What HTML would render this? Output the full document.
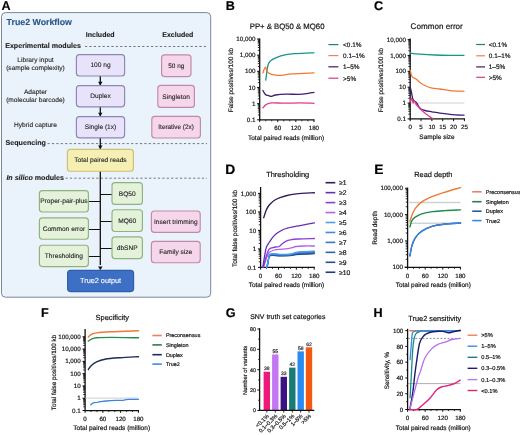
<!DOCTYPE html><html><head><meta charset="utf-8"><style>html,body{margin:0;padding:0;background:#fff;}svg{display:block;will-change:transform;font-family:"Liberation Sans",sans-serif;}text{stroke:currentColor;stroke-width:0.18px;paint-order:stroke;text-rendering:geometricPrecision;}.pa text{stroke-width:0.1px;}</style></head><body>
<svg width="520" height="435" viewBox="0 0 520 435">
<rect width="520" height="435" fill="#fff"/>
<g class="pa">
<text x="1.4" y="9.9" font-size="12.6" text-anchor="start" font-weight="bold" fill="#000" color="#000" >A</text>
<rect x="1.5" y="12.6" width="209.2" height="284.6" rx="4" fill="#eaf2fb" stroke="#7d8899" stroke-width="1"/>
<text x="6.6" y="25.4" font-size="8.8" text-anchor="start" font-weight="bold" fill="#28548a" color="#28548a" >True2 Workflow</text>
<text x="100.2" y="37" font-size="7.0" text-anchor="middle" font-weight="bold" fill="#1a1a1a" color="#1a1a1a" >Included</text>
<text x="177.8" y="37" font-size="7.0" text-anchor="middle" font-weight="bold" fill="#1a1a1a" color="#1a1a1a" >Excluded</text>
<text x="5.2" y="48.2" font-size="7.1" text-anchor="start" font-weight="bold" fill="#1a1a1a" color="#1a1a1a" >Experimental modules</text>
<line x1="85" y1="46.5" x2="207" y2="46.5" stroke="#555" stroke-width="0.8" stroke-dasharray="2.2 2.2"/>
<text x="5.6" y="145.3" font-size="7.1" text-anchor="start" font-weight="bold" fill="#1a1a1a" color="#1a1a1a" >Sequencing</text>
<line x1="47.5" y1="143.6" x2="207" y2="143.6" stroke="#555" stroke-width="0.8" stroke-dasharray="2.2 2.2"/>
<text x="6.4" y="180.4" font-size="7.1" font-weight="bold" fill="#1a1a1a" color="#1a1a1a"><tspan font-style="italic">In silico</tspan> modules</text>
<line x1="65.5" y1="178.2" x2="207" y2="178.2" stroke="#555" stroke-width="0.8" stroke-dasharray="2.2 2.2"/>
<text x="35.5" y="62.4" font-size="6.6" text-anchor="middle" font-weight="normal" fill="#1c1c1c" color="#1c1c1c" >Library input</text>
<text x="35.5" y="70.2" font-size="6.6" text-anchor="middle" font-weight="normal" fill="#1c1c1c" color="#1c1c1c" >(sample complexity)</text>
<text x="35.5" y="94.2" font-size="6.6" text-anchor="middle" font-weight="normal" fill="#1c1c1c" color="#1c1c1c" >Adapter</text>
<text x="35.5" y="101.6" font-size="6.6" text-anchor="middle" font-weight="normal" fill="#1c1c1c" color="#1c1c1c" >(molecular barcode)</text>
<text x="35.5" y="126.6" font-size="6.6" text-anchor="middle" font-weight="normal" fill="#1c1c1c" color="#1c1c1c" >Hybrid capture</text>
<line x1="100.3" y1="76" x2="100.3" y2="265" stroke="#111" stroke-width="1.3" />
<path d="M98.1,81.8 L102.5,81.8 L100.3,85.4 Z" fill="#111"/>
<path d="M98.1,112.7 L102.5,112.7 L100.3,116.3 Z" fill="#111"/>
<path d="M98.1,145.6 L102.5,145.6 L100.3,149.2 Z" fill="#111"/>
<path d="M98.1,266.6 L102.5,266.6 L100.3,270.2 Z" fill="#111"/>
<rect x="76.4" y="54.6" width="48.2" height="21.4" rx="3" fill="#e8e3fa" stroke="#8c86b6" stroke-width="1.15"/>
<text x="100.5" y="67.41" font-size="6.6" text-anchor="middle" font-weight="normal" fill="#1c1c1c" color="#1c1c1c" >100 ng</text>
<rect x="76.4" y="85.6" width="48.2" height="21.2" rx="3" fill="#e8e3fa" stroke="#8c86b6" stroke-width="1.15"/>
<text x="100.5" y="98.31" font-size="6.6" text-anchor="middle" font-weight="normal" fill="#1c1c1c" color="#1c1c1c" >Duplex</text>
<rect x="76.4" y="116.6" width="48.2" height="21.2" rx="3" fill="#e8e3fa" stroke="#8c86b6" stroke-width="1.15"/>
<text x="100.5" y="129.31" font-size="6.6" text-anchor="middle" font-weight="normal" fill="#1c1c1c" color="#1c1c1c" >Single (1x)</text>
<rect x="161.6" y="54.8" width="29.4" height="21.8" rx="3" fill="#f6d6ea" stroke="#bf8aa8" stroke-width="1.15"/>
<text x="176.3" y="67.75" font-size="6.4" text-anchor="middle" font-weight="normal" fill="#1c1c1c" color="#1c1c1c" >50 ng</text>
<rect x="157.8" y="85.4" width="36.6" height="22" rx="3" fill="#f6d6ea" stroke="#bf8aa8" stroke-width="1.15"/>
<text x="176.1" y="98.51" font-size="6.6" text-anchor="middle" font-weight="normal" fill="#1c1c1c" color="#1c1c1c" >Singleton</text>
<rect x="151.8" y="116.4" width="48.6" height="21.6" rx="3" fill="#f6d6ea" stroke="#bf8aa8" stroke-width="1.15"/>
<text x="176.1" y="129.25" font-size="6.4" text-anchor="middle" font-weight="normal" fill="#1c1c1c" color="#1c1c1c" >Iterative (2x)</text>
<rect x="67.4" y="149.4" width="66" height="21.8" rx="3" fill="#f6efb4" stroke="#cdbf73" stroke-width="1.15"/>
<text x="100.4" y="162.41" font-size="6.6" text-anchor="middle" font-weight="normal" fill="#1c1c1c" color="#1c1c1c" >Total paired reads</text>
<line x1="88.6" y1="201.5" x2="100.3" y2="201.5" stroke="#111" stroke-width="1" />
<rect x="39.4" y="190.6" width="49" height="21.4" rx="3" fill="#e3f2d8" stroke="#8fb27e" stroke-width="1.15"/>
<text x="63.9" y="203.41" font-size="6.6" text-anchor="middle" font-weight="normal" fill="#1c1c1c" color="#1c1c1c" >Proper-pair-plus</text>
<line x1="88.6" y1="229.5" x2="100.3" y2="229.5" stroke="#111" stroke-width="1" />
<rect x="39.4" y="217.8" width="49" height="21.4" rx="3" fill="#e3f2d8" stroke="#8fb27e" stroke-width="1.15"/>
<text x="63.9" y="230.61" font-size="6.6" text-anchor="middle" font-weight="normal" fill="#1c1c1c" color="#1c1c1c" >Common error</text>
<line x1="88.6" y1="256.5" x2="100.3" y2="256.5" stroke="#111" stroke-width="1" />
<rect x="39.4" y="245.2" width="49" height="21.4" rx="3" fill="#e3f2d8" stroke="#8fb27e" stroke-width="1.15"/>
<text x="63.9" y="258.01" font-size="6.6" text-anchor="middle" font-weight="normal" fill="#1c1c1c" color="#1c1c1c" >Thresholding</text>
<line x1="100.3" y1="194.5" x2="112" y2="194.5" stroke="#111" stroke-width="1" />
<rect x="112" y="182.6" width="30.4" height="21.8" rx="3" fill="#e3f2d8" stroke="#8fb27e" stroke-width="1.15"/>
<text x="127.2" y="195.61" font-size="6.6" text-anchor="middle" font-weight="normal" fill="#1c1c1c" color="#1c1c1c" >BQ50</text>
<line x1="100.3" y1="221.5" x2="112" y2="221.5" stroke="#111" stroke-width="1" />
<rect x="112" y="209.7" width="30.4" height="21.8" rx="3" fill="#e3f2d8" stroke="#8fb27e" stroke-width="1.15"/>
<text x="127.2" y="222.71" font-size="6.6" text-anchor="middle" font-weight="normal" fill="#1c1c1c" color="#1c1c1c" >MQ60</text>
<line x1="100.3" y1="248.5" x2="112" y2="248.5" stroke="#111" stroke-width="1" />
<rect x="112" y="236.8" width="30.4" height="21.8" rx="3" fill="#e3f2d8" stroke="#8fb27e" stroke-width="1.15"/>
<text x="127.2" y="249.81" font-size="6.6" text-anchor="middle" font-weight="normal" fill="#1c1c1c" color="#1c1c1c" >dbSNP</text>
<rect x="151.4" y="211" width="48.8" height="21.4" rx="3" fill="#f6d6ea" stroke="#bf8aa8" stroke-width="1.15"/>
<text x="175.8" y="223.81" font-size="6.6" text-anchor="middle" font-weight="normal" fill="#1c1c1c" color="#1c1c1c" >Insert trimming</text>
<rect x="151.4" y="241.3" width="48.8" height="21.4" rx="3" fill="#f6d6ea" stroke="#bf8aa8" stroke-width="1.15"/>
<text x="175.8" y="254.11" font-size="6.6" text-anchor="middle" font-weight="normal" fill="#1c1c1c" color="#1c1c1c" >Family size</text>
<rect x="67.6" y="270.4" width="66" height="21.2" rx="3" fill="#3d70c4" stroke="#2f5ea8" stroke-width="1.15"/>
<text x="100.6" y="283.34" font-size="7.3" text-anchor="middle" font-weight="normal" fill="#fff" color="#fff" >True2 output</text>
</g>
<text x="225.8" y="9.9" font-size="12.6" text-anchor="start" font-weight="bold" fill="#000" color="#000" >B</text>
<text x="287.1" y="28.6" font-size="7.75" text-anchor="middle" font-weight="normal" fill="#111" color="#111" >PP+ &amp; BQ50 &amp; MQ60</text>
<line x1="259.1" y1="119.8" x2="314.5" y2="119.8" stroke="#111" stroke-width="1.25" />
<line x1="259.7" y1="119.8" x2="259.7" y2="122.1" stroke="#111" stroke-width="1" />
<line x1="277.77" y1="119.8" x2="277.77" y2="122.1" stroke="#111" stroke-width="1" />
<line x1="295.83" y1="119.8" x2="295.83" y2="122.1" stroke="#111" stroke-width="1" />
<line x1="313.9" y1="119.8" x2="313.9" y2="122.1" stroke="#111" stroke-width="1" />
<line x1="265.72" y1="119.8" x2="265.72" y2="121.4" stroke="#111" stroke-width="0.8" />
<line x1="271.74" y1="119.8" x2="271.74" y2="121.4" stroke="#111" stroke-width="0.8" />
<line x1="283.79" y1="119.8" x2="283.79" y2="121.4" stroke="#111" stroke-width="0.8" />
<line x1="289.81" y1="119.8" x2="289.81" y2="121.4" stroke="#111" stroke-width="0.8" />
<line x1="301.86" y1="119.8" x2="301.86" y2="121.4" stroke="#111" stroke-width="0.8" />
<line x1="307.88" y1="119.8" x2="307.88" y2="121.4" stroke="#111" stroke-width="0.8" />
<text x="259.7" y="130.2" font-size="6.2" text-anchor="middle" font-weight="normal" fill="#111" color="#111" >0</text>
<text x="277.77" y="130.2" font-size="6.2" text-anchor="middle" font-weight="normal" fill="#111" color="#111" >60</text>
<text x="295.83" y="130.2" font-size="6.2" text-anchor="middle" font-weight="normal" fill="#111" color="#111" >120</text>
<text x="313.9" y="130.2" font-size="6.2" text-anchor="middle" font-weight="normal" fill="#111" color="#111" >180</text>
<line x1="259.7" y1="38.4" x2="259.7" y2="120.4" stroke="#111" stroke-width="1.3" />
<line x1="257.1" y1="119.8" x2="259.7" y2="119.8" stroke="#111" stroke-width="1.05" />
<line x1="257.8" y1="114.94" x2="259.7" y2="114.94" stroke="#111" stroke-width="0.85" />
<line x1="257.8" y1="112.09" x2="259.7" y2="112.09" stroke="#111" stroke-width="0.85" />
<line x1="257.8" y1="110.07" x2="259.7" y2="110.07" stroke="#111" stroke-width="0.85" />
<line x1="257.8" y1="108.5" x2="259.7" y2="108.5" stroke="#111" stroke-width="0.85" />
<line x1="257.8" y1="107.23" x2="259.7" y2="107.23" stroke="#111" stroke-width="0.85" />
<line x1="257.8" y1="106.14" x2="259.7" y2="106.14" stroke="#111" stroke-width="0.85" />
<line x1="257.8" y1="105.21" x2="259.7" y2="105.21" stroke="#111" stroke-width="0.85" />
<line x1="257.8" y1="104.38" x2="259.7" y2="104.38" stroke="#111" stroke-width="0.85" />
<line x1="257.1" y1="103.64" x2="259.7" y2="103.64" stroke="#111" stroke-width="1.05" />
<line x1="257.8" y1="98.78" x2="259.7" y2="98.78" stroke="#111" stroke-width="0.85" />
<line x1="257.8" y1="95.93" x2="259.7" y2="95.93" stroke="#111" stroke-width="0.85" />
<line x1="257.8" y1="93.91" x2="259.7" y2="93.91" stroke="#111" stroke-width="0.85" />
<line x1="257.8" y1="92.34" x2="259.7" y2="92.34" stroke="#111" stroke-width="0.85" />
<line x1="257.8" y1="91.07" x2="259.7" y2="91.07" stroke="#111" stroke-width="0.85" />
<line x1="257.8" y1="89.98" x2="259.7" y2="89.98" stroke="#111" stroke-width="0.85" />
<line x1="257.8" y1="89.05" x2="259.7" y2="89.05" stroke="#111" stroke-width="0.85" />
<line x1="257.8" y1="88.22" x2="259.7" y2="88.22" stroke="#111" stroke-width="0.85" />
<line x1="257.1" y1="87.48" x2="259.7" y2="87.48" stroke="#111" stroke-width="1.05" />
<line x1="257.8" y1="82.62" x2="259.7" y2="82.62" stroke="#111" stroke-width="0.85" />
<line x1="257.8" y1="79.77" x2="259.7" y2="79.77" stroke="#111" stroke-width="0.85" />
<line x1="257.8" y1="77.75" x2="259.7" y2="77.75" stroke="#111" stroke-width="0.85" />
<line x1="257.8" y1="76.18" x2="259.7" y2="76.18" stroke="#111" stroke-width="0.85" />
<line x1="257.8" y1="74.91" x2="259.7" y2="74.91" stroke="#111" stroke-width="0.85" />
<line x1="257.8" y1="73.82" x2="259.7" y2="73.82" stroke="#111" stroke-width="0.85" />
<line x1="257.8" y1="72.89" x2="259.7" y2="72.89" stroke="#111" stroke-width="0.85" />
<line x1="257.8" y1="72.06" x2="259.7" y2="72.06" stroke="#111" stroke-width="0.85" />
<line x1="257.1" y1="71.32" x2="259.7" y2="71.32" stroke="#111" stroke-width="1.05" />
<line x1="257.8" y1="66.46" x2="259.7" y2="66.46" stroke="#111" stroke-width="0.85" />
<line x1="257.8" y1="63.61" x2="259.7" y2="63.61" stroke="#111" stroke-width="0.85" />
<line x1="257.8" y1="61.59" x2="259.7" y2="61.59" stroke="#111" stroke-width="0.85" />
<line x1="257.8" y1="60.02" x2="259.7" y2="60.02" stroke="#111" stroke-width="0.85" />
<line x1="257.8" y1="58.75" x2="259.7" y2="58.75" stroke="#111" stroke-width="0.85" />
<line x1="257.8" y1="57.66" x2="259.7" y2="57.66" stroke="#111" stroke-width="0.85" />
<line x1="257.8" y1="56.73" x2="259.7" y2="56.73" stroke="#111" stroke-width="0.85" />
<line x1="257.8" y1="55.9" x2="259.7" y2="55.9" stroke="#111" stroke-width="0.85" />
<line x1="257.1" y1="55.16" x2="259.7" y2="55.16" stroke="#111" stroke-width="1.05" />
<line x1="257.8" y1="50.3" x2="259.7" y2="50.3" stroke="#111" stroke-width="0.85" />
<line x1="257.8" y1="47.45" x2="259.7" y2="47.45" stroke="#111" stroke-width="0.85" />
<line x1="257.8" y1="45.43" x2="259.7" y2="45.43" stroke="#111" stroke-width="0.85" />
<line x1="257.8" y1="43.86" x2="259.7" y2="43.86" stroke="#111" stroke-width="0.85" />
<line x1="257.8" y1="42.59" x2="259.7" y2="42.59" stroke="#111" stroke-width="0.85" />
<line x1="257.8" y1="41.5" x2="259.7" y2="41.5" stroke="#111" stroke-width="0.85" />
<line x1="257.8" y1="40.57" x2="259.7" y2="40.57" stroke="#111" stroke-width="0.85" />
<line x1="257.8" y1="39.74" x2="259.7" y2="39.74" stroke="#111" stroke-width="0.85" />
<line x1="257.1" y1="39" x2="259.7" y2="39" stroke="#111" stroke-width="1.05" />
<text x="255.4" y="41.1" font-size="6.25" text-anchor="end" font-weight="normal" fill="#111" color="#111" >10,000</text>
<text x="255.4" y="57.26" font-size="6.25" text-anchor="end" font-weight="normal" fill="#111" color="#111" >1,000</text>
<text x="255.4" y="73.42" font-size="6.25" text-anchor="end" font-weight="normal" fill="#111" color="#111" >100</text>
<text x="255.4" y="89.58" font-size="6.25" text-anchor="end" font-weight="normal" fill="#111" color="#111" >10</text>
<text x="255.4" y="105.74" font-size="6.25" text-anchor="end" font-weight="normal" fill="#111" color="#111" >1</text>
<text x="255.4" y="121.9" font-size="6.25" text-anchor="end" font-weight="normal" fill="#111" color="#111" >0.1</text>
<text x="286.1" y="140.1" font-size="6.5" text-anchor="middle" font-weight="normal" fill="#111" color="#111" >Total paired reads (million)</text>
<text x="0" y="0" font-size="6.5" text-anchor="middle" fill="#111" color="#111" transform="translate(233.1,80.1) rotate(-90)">False positives/100 kb</text>
<path d="M265.8,80.1 C266.13,77.75 267.02,69.2 267.8,66 C268.58,62.8 269.18,62.27 270.5,60.9 C271.82,59.53 273.12,58.83 275.7,57.8 C278.28,56.77 282.55,55.4 286,54.7 C289.45,54 291.73,53.92 296.4,53.6 C301.07,53.28 311.07,52.93 314,52.8" fill="none" stroke="#15968a" stroke-width="1.3" stroke-linejoin="round" stroke-linecap="round"/>
<path d="M262.9,72.9 C263.32,71.93 264.65,67.27 265.4,67.1 C266.15,66.93 266.37,70.7 267.4,71.9 C268.43,73.1 269.7,73.72 271.6,74.3 C273.5,74.88 275.35,75.47 278.8,75.4 C282.25,75.33 286.43,74.32 292.3,73.9 C298.17,73.48 310.38,73.07 314,72.9" fill="none" stroke="#f07a35" stroke-width="1.3" stroke-linejoin="round" stroke-linecap="round"/>
<path d="M262.9,90.5 C263.32,91.15 264.47,93.55 265.4,94.4 C266.33,95.25 267.47,95.28 268.5,95.6 C269.53,95.92 270.4,96.4 271.6,96.3 C272.8,96.2 273.3,95.35 275.7,95 C278.1,94.65 281.52,94.33 286,94.2 C290.48,94.07 297.93,94.52 302.6,94.2 C307.27,93.88 312.1,92.62 314,92.3" fill="none" stroke="#3f1c78" stroke-width="1.3" stroke-linejoin="round" stroke-linecap="round"/>
<path d="M262.9,107.9 C263.48,107.32 264.95,105.23 266.4,104.4 C267.85,103.57 268.5,103.1 271.6,102.9 C274.7,102.7 280.27,103.2 285,103.2 C289.73,103.2 295.17,102.88 300,102.9 C304.83,102.92 311.67,103.23 314,103.3" fill="none" stroke="#e23a8c" stroke-width="1.3" stroke-linejoin="round" stroke-linecap="round"/>
<line x1="328.4" y1="44.6" x2="338.4" y2="44.6" stroke="#1d7f78" stroke-width="1.2" />
<text x="343.1" y="46.9" font-size="6.4" text-anchor="start" font-weight="normal" fill="#111" color="#111" >&lt;0.1%</text>
<line x1="328.4" y1="55.6" x2="338.4" y2="55.6" stroke="#ee7f5c" stroke-width="1.2" />
<text x="343.1" y="57.9" font-size="6.4" text-anchor="start" font-weight="normal" fill="#111" color="#111" >0.1–1%</text>
<line x1="328.4" y1="66.8" x2="338.4" y2="66.8" stroke="#3d1a5e" stroke-width="1.2" />
<text x="343.1" y="69.1" font-size="6.4" text-anchor="start" font-weight="normal" fill="#111" color="#111" >1–5%</text>
<line x1="328.4" y1="78.2" x2="338.4" y2="78.2" stroke="#d83a82" stroke-width="1.2" />
<text x="343.1" y="80.5" font-size="6.4" text-anchor="start" font-weight="normal" fill="#111" color="#111" >&gt;5%</text>
<text x="374" y="9.8" font-size="12.6" text-anchor="start" font-weight="bold" fill="#000" color="#000" >C</text>
<text x="436.7" y="28.9" font-size="8.1" text-anchor="middle" font-weight="normal" fill="#111" color="#111" >Common error</text>
<line x1="409.6" y1="118.9" x2="465" y2="118.9" stroke="#111" stroke-width="1.25" />
<line x1="410.2" y1="118.9" x2="410.2" y2="121.2" stroke="#111" stroke-width="1" />
<line x1="421.04" y1="118.9" x2="421.04" y2="121.2" stroke="#111" stroke-width="1" />
<line x1="431.88" y1="118.9" x2="431.88" y2="121.2" stroke="#111" stroke-width="1" />
<line x1="442.72" y1="118.9" x2="442.72" y2="121.2" stroke="#111" stroke-width="1" />
<line x1="453.56" y1="118.9" x2="453.56" y2="121.2" stroke="#111" stroke-width="1" />
<line x1="464.4" y1="118.9" x2="464.4" y2="121.2" stroke="#111" stroke-width="1" />
<text x="410.2" y="129.3" font-size="6.2" text-anchor="middle" font-weight="normal" fill="#111" color="#111" >0</text>
<text x="421.04" y="129.3" font-size="6.2" text-anchor="middle" font-weight="normal" fill="#111" color="#111" >5</text>
<text x="431.88" y="129.3" font-size="6.2" text-anchor="middle" font-weight="normal" fill="#111" color="#111" >10</text>
<text x="442.72" y="129.3" font-size="6.2" text-anchor="middle" font-weight="normal" fill="#111" color="#111" >15</text>
<text x="453.56" y="129.3" font-size="6.2" text-anchor="middle" font-weight="normal" fill="#111" color="#111" >20</text>
<text x="464.4" y="129.3" font-size="6.2" text-anchor="middle" font-weight="normal" fill="#111" color="#111" >25</text>
<line x1="410.2" y1="38.6" x2="410.2" y2="119.5" stroke="#111" stroke-width="1.3" />
<line x1="407.6" y1="118.9" x2="410.2" y2="118.9" stroke="#111" stroke-width="1.05" />
<line x1="408.3" y1="114.13" x2="410.2" y2="114.13" stroke="#111" stroke-width="0.85" />
<line x1="408.3" y1="111.33" x2="410.2" y2="111.33" stroke="#111" stroke-width="0.85" />
<line x1="408.3" y1="109.35" x2="410.2" y2="109.35" stroke="#111" stroke-width="0.85" />
<line x1="408.3" y1="107.81" x2="410.2" y2="107.81" stroke="#111" stroke-width="0.85" />
<line x1="408.3" y1="106.56" x2="410.2" y2="106.56" stroke="#111" stroke-width="0.85" />
<line x1="408.3" y1="105.5" x2="410.2" y2="105.5" stroke="#111" stroke-width="0.85" />
<line x1="408.3" y1="104.58" x2="410.2" y2="104.58" stroke="#111" stroke-width="0.85" />
<line x1="408.3" y1="103.77" x2="410.2" y2="103.77" stroke="#111" stroke-width="0.85" />
<line x1="407.6" y1="103.04" x2="410.2" y2="103.04" stroke="#111" stroke-width="1.05" />
<line x1="408.3" y1="98.27" x2="410.2" y2="98.27" stroke="#111" stroke-width="0.85" />
<line x1="408.3" y1="95.47" x2="410.2" y2="95.47" stroke="#111" stroke-width="0.85" />
<line x1="408.3" y1="93.49" x2="410.2" y2="93.49" stroke="#111" stroke-width="0.85" />
<line x1="408.3" y1="91.95" x2="410.2" y2="91.95" stroke="#111" stroke-width="0.85" />
<line x1="408.3" y1="90.7" x2="410.2" y2="90.7" stroke="#111" stroke-width="0.85" />
<line x1="408.3" y1="89.64" x2="410.2" y2="89.64" stroke="#111" stroke-width="0.85" />
<line x1="408.3" y1="88.72" x2="410.2" y2="88.72" stroke="#111" stroke-width="0.85" />
<line x1="408.3" y1="87.91" x2="410.2" y2="87.91" stroke="#111" stroke-width="0.85" />
<line x1="407.6" y1="87.18" x2="410.2" y2="87.18" stroke="#111" stroke-width="1.05" />
<line x1="408.3" y1="82.41" x2="410.2" y2="82.41" stroke="#111" stroke-width="0.85" />
<line x1="408.3" y1="79.61" x2="410.2" y2="79.61" stroke="#111" stroke-width="0.85" />
<line x1="408.3" y1="77.63" x2="410.2" y2="77.63" stroke="#111" stroke-width="0.85" />
<line x1="408.3" y1="76.09" x2="410.2" y2="76.09" stroke="#111" stroke-width="0.85" />
<line x1="408.3" y1="74.84" x2="410.2" y2="74.84" stroke="#111" stroke-width="0.85" />
<line x1="408.3" y1="73.78" x2="410.2" y2="73.78" stroke="#111" stroke-width="0.85" />
<line x1="408.3" y1="72.86" x2="410.2" y2="72.86" stroke="#111" stroke-width="0.85" />
<line x1="408.3" y1="72.05" x2="410.2" y2="72.05" stroke="#111" stroke-width="0.85" />
<line x1="407.6" y1="71.32" x2="410.2" y2="71.32" stroke="#111" stroke-width="1.05" />
<line x1="408.3" y1="66.55" x2="410.2" y2="66.55" stroke="#111" stroke-width="0.85" />
<line x1="408.3" y1="63.75" x2="410.2" y2="63.75" stroke="#111" stroke-width="0.85" />
<line x1="408.3" y1="61.77" x2="410.2" y2="61.77" stroke="#111" stroke-width="0.85" />
<line x1="408.3" y1="60.23" x2="410.2" y2="60.23" stroke="#111" stroke-width="0.85" />
<line x1="408.3" y1="58.98" x2="410.2" y2="58.98" stroke="#111" stroke-width="0.85" />
<line x1="408.3" y1="57.92" x2="410.2" y2="57.92" stroke="#111" stroke-width="0.85" />
<line x1="408.3" y1="57" x2="410.2" y2="57" stroke="#111" stroke-width="0.85" />
<line x1="408.3" y1="56.19" x2="410.2" y2="56.19" stroke="#111" stroke-width="0.85" />
<line x1="407.6" y1="55.46" x2="410.2" y2="55.46" stroke="#111" stroke-width="1.05" />
<line x1="408.3" y1="50.69" x2="410.2" y2="50.69" stroke="#111" stroke-width="0.85" />
<line x1="408.3" y1="47.89" x2="410.2" y2="47.89" stroke="#111" stroke-width="0.85" />
<line x1="408.3" y1="45.91" x2="410.2" y2="45.91" stroke="#111" stroke-width="0.85" />
<line x1="408.3" y1="44.37" x2="410.2" y2="44.37" stroke="#111" stroke-width="0.85" />
<line x1="408.3" y1="43.12" x2="410.2" y2="43.12" stroke="#111" stroke-width="0.85" />
<line x1="408.3" y1="42.06" x2="410.2" y2="42.06" stroke="#111" stroke-width="0.85" />
<line x1="408.3" y1="41.14" x2="410.2" y2="41.14" stroke="#111" stroke-width="0.85" />
<line x1="408.3" y1="40.33" x2="410.2" y2="40.33" stroke="#111" stroke-width="0.85" />
<line x1="407.6" y1="39.6" x2="410.2" y2="39.6" stroke="#111" stroke-width="1.05" />
<text x="405.9" y="41.7" font-size="6.25" text-anchor="end" font-weight="normal" fill="#111" color="#111" >10,000</text>
<text x="405.9" y="57.56" font-size="6.25" text-anchor="end" font-weight="normal" fill="#111" color="#111" >1,000</text>
<text x="405.9" y="73.42" font-size="6.25" text-anchor="end" font-weight="normal" fill="#111" color="#111" >100</text>
<text x="405.9" y="89.28" font-size="6.25" text-anchor="end" font-weight="normal" fill="#111" color="#111" >10</text>
<text x="405.9" y="105.14" font-size="6.25" text-anchor="end" font-weight="normal" fill="#111" color="#111" >1</text>
<text x="405.9" y="121" font-size="6.25" text-anchor="end" font-weight="normal" fill="#111" color="#111" >0.1</text>
<text x="437" y="139.2" font-size="6.5" text-anchor="middle" font-weight="normal" fill="#111" color="#111" >Sample size</text>
<text x="0" y="0" font-size="6.5" text-anchor="middle" fill="#111" color="#111" transform="translate(383.1,80.1) rotate(-90)">False positives/100 kb</text>
<line x1="410.8" y1="103" x2="464.4" y2="103" stroke="#cfcfcf" stroke-width="1.1" />
<path d="M410.5,52.6 C410.75,52.73 410.42,53.13 412,53.4 C413.58,53.67 416.17,53.93 420,54.2 C423.83,54.47 430,54.82 435,55 C440,55.18 445.17,55.25 450,55.3 C454.83,55.35 461.67,55.3 464,55.3" fill="none" stroke="#15968a" stroke-width="1.3" stroke-linejoin="round" stroke-linecap="round"/>
<path d="M410.3,70.3 C410.5,71.17 411.05,74.3 411.5,75.5 C411.95,76.7 412.25,76.92 413,77.5 C413.75,78.08 414.83,78.17 416,79 C417.17,79.83 418.5,81.42 420,82.5 C421.5,83.58 423,84.55 425,85.5 C427,86.45 429.5,87.62 432,88.2 C434.5,88.78 437,88.6 440,89 C443,89.4 446,90.22 450,90.6 C454,90.98 461.67,91.18 464,91.3" fill="none" stroke="#f07a35" stroke-width="1.3" stroke-linejoin="round" stroke-linecap="round"/>
<path d="M410.4,87.6 C410.58,88.42 411.07,90.5 411.5,92.5 C411.93,94.5 412.42,98.12 413,99.6 C413.58,101.08 414.33,100.75 415,101.4 C415.67,102.05 416.33,102.57 417,103.5 C417.67,104.43 418.33,106.08 419,107 C419.67,107.92 420,108.42 421,109 C422,109.58 423.17,110.03 425,110.5 C426.83,110.97 429.5,111.35 432,111.8 C434.5,112.25 436.67,112.73 440,113.2 C443.33,113.67 448,114.27 452,114.6 C456,114.93 462,115.1 464,115.2" fill="none" stroke="#3f1c78" stroke-width="1.3" stroke-linejoin="round" stroke-linecap="round"/>
<path d="M410.5,101.7 L411.2,98.2 L412.2,100.2 L413.2,103 L414.3,100.8 L416,104.3 L420,108.8 L426,114 L432.6,118.6" fill="none" stroke="#e23a8c" stroke-width="1.3" stroke-linejoin="round" stroke-linecap="round"/>
<line x1="476.2" y1="44.5" x2="485" y2="44.5" stroke="#1d7f78" stroke-width="1.2" />
<text x="488.8" y="46.8" font-size="6.4" text-anchor="start" font-weight="normal" fill="#111" color="#111" >&lt;0.1%</text>
<line x1="476.2" y1="55.8" x2="485" y2="55.8" stroke="#ee7f5c" stroke-width="1.2" />
<text x="488.8" y="58.1" font-size="6.4" text-anchor="start" font-weight="normal" fill="#111" color="#111" >0.1–1%</text>
<line x1="476.2" y1="66.9" x2="485" y2="66.9" stroke="#3d1a5e" stroke-width="1.2" />
<text x="488.8" y="69.2" font-size="6.4" text-anchor="start" font-weight="normal" fill="#111" color="#111" >1–5%</text>
<line x1="476.2" y1="77.3" x2="485" y2="77.3" stroke="#d83a82" stroke-width="1.2" />
<text x="488.8" y="79.6" font-size="6.4" text-anchor="start" font-weight="normal" fill="#111" color="#111" >&gt;5%</text>
<text x="225.3" y="173.9" font-size="13.8" text-anchor="start" font-weight="bold" fill="#000" color="#000" >D</text>
<text x="287.7" y="177.1" font-size="7.45" text-anchor="middle" font-weight="normal" fill="#111" color="#111" >Thresholding</text>
<line x1="260" y1="267.4" x2="314.8" y2="267.4" stroke="#111" stroke-width="1.25" />
<line x1="260.6" y1="267.4" x2="260.6" y2="269.7" stroke="#111" stroke-width="1" />
<line x1="278.47" y1="267.4" x2="278.47" y2="269.7" stroke="#111" stroke-width="1" />
<line x1="296.33" y1="267.4" x2="296.33" y2="269.7" stroke="#111" stroke-width="1" />
<line x1="314.2" y1="267.4" x2="314.2" y2="269.7" stroke="#111" stroke-width="1" />
<line x1="266.56" y1="267.4" x2="266.56" y2="269" stroke="#111" stroke-width="0.8" />
<line x1="272.51" y1="267.4" x2="272.51" y2="269" stroke="#111" stroke-width="0.8" />
<line x1="284.42" y1="267.4" x2="284.42" y2="269" stroke="#111" stroke-width="0.8" />
<line x1="290.38" y1="267.4" x2="290.38" y2="269" stroke="#111" stroke-width="0.8" />
<line x1="302.29" y1="267.4" x2="302.29" y2="269" stroke="#111" stroke-width="0.8" />
<line x1="308.24" y1="267.4" x2="308.24" y2="269" stroke="#111" stroke-width="0.8" />
<text x="260.6" y="277.8" font-size="6.2" text-anchor="middle" font-weight="normal" fill="#111" color="#111" >0</text>
<text x="278.47" y="277.8" font-size="6.2" text-anchor="middle" font-weight="normal" fill="#111" color="#111" >60</text>
<text x="296.33" y="277.8" font-size="6.2" text-anchor="middle" font-weight="normal" fill="#111" color="#111" >120</text>
<text x="314.2" y="277.8" font-size="6.2" text-anchor="middle" font-weight="normal" fill="#111" color="#111" >180</text>
<line x1="260.6" y1="187" x2="260.6" y2="268" stroke="#111" stroke-width="1.3" />
<line x1="258" y1="267.4" x2="260.6" y2="267.4" stroke="#111" stroke-width="1.05" />
<line x1="258.7" y1="261.83" x2="260.6" y2="261.83" stroke="#111" stroke-width="0.85" />
<line x1="258.7" y1="258.57" x2="260.6" y2="258.57" stroke="#111" stroke-width="0.85" />
<line x1="258.7" y1="256.26" x2="260.6" y2="256.26" stroke="#111" stroke-width="0.85" />
<line x1="258.7" y1="254.47" x2="260.6" y2="254.47" stroke="#111" stroke-width="0.85" />
<line x1="258.7" y1="253" x2="260.6" y2="253" stroke="#111" stroke-width="0.85" />
<line x1="258.7" y1="251.77" x2="260.6" y2="251.77" stroke="#111" stroke-width="0.85" />
<line x1="258.7" y1="250.69" x2="260.6" y2="250.69" stroke="#111" stroke-width="0.85" />
<line x1="258.7" y1="249.75" x2="260.6" y2="249.75" stroke="#111" stroke-width="0.85" />
<line x1="258" y1="248.9" x2="260.6" y2="248.9" stroke="#111" stroke-width="1.05" />
<line x1="258.7" y1="243.33" x2="260.6" y2="243.33" stroke="#111" stroke-width="0.85" />
<line x1="258.7" y1="240.07" x2="260.6" y2="240.07" stroke="#111" stroke-width="0.85" />
<line x1="258.7" y1="237.76" x2="260.6" y2="237.76" stroke="#111" stroke-width="0.85" />
<line x1="258.7" y1="235.97" x2="260.6" y2="235.97" stroke="#111" stroke-width="0.85" />
<line x1="258.7" y1="234.5" x2="260.6" y2="234.5" stroke="#111" stroke-width="0.85" />
<line x1="258.7" y1="233.27" x2="260.6" y2="233.27" stroke="#111" stroke-width="0.85" />
<line x1="258.7" y1="232.19" x2="260.6" y2="232.19" stroke="#111" stroke-width="0.85" />
<line x1="258.7" y1="231.25" x2="260.6" y2="231.25" stroke="#111" stroke-width="0.85" />
<line x1="258" y1="230.4" x2="260.6" y2="230.4" stroke="#111" stroke-width="1.05" />
<line x1="258.7" y1="224.83" x2="260.6" y2="224.83" stroke="#111" stroke-width="0.85" />
<line x1="258.7" y1="221.57" x2="260.6" y2="221.57" stroke="#111" stroke-width="0.85" />
<line x1="258.7" y1="219.26" x2="260.6" y2="219.26" stroke="#111" stroke-width="0.85" />
<line x1="258.7" y1="217.47" x2="260.6" y2="217.47" stroke="#111" stroke-width="0.85" />
<line x1="258.7" y1="216" x2="260.6" y2="216" stroke="#111" stroke-width="0.85" />
<line x1="258.7" y1="214.77" x2="260.6" y2="214.77" stroke="#111" stroke-width="0.85" />
<line x1="258.7" y1="213.69" x2="260.6" y2="213.69" stroke="#111" stroke-width="0.85" />
<line x1="258.7" y1="212.75" x2="260.6" y2="212.75" stroke="#111" stroke-width="0.85" />
<line x1="258" y1="211.9" x2="260.6" y2="211.9" stroke="#111" stroke-width="1.05" />
<line x1="258.7" y1="206.33" x2="260.6" y2="206.33" stroke="#111" stroke-width="0.85" />
<line x1="258.7" y1="203.07" x2="260.6" y2="203.07" stroke="#111" stroke-width="0.85" />
<line x1="258.7" y1="200.76" x2="260.6" y2="200.76" stroke="#111" stroke-width="0.85" />
<line x1="258.7" y1="198.97" x2="260.6" y2="198.97" stroke="#111" stroke-width="0.85" />
<line x1="258.7" y1="197.5" x2="260.6" y2="197.5" stroke="#111" stroke-width="0.85" />
<line x1="258.7" y1="196.27" x2="260.6" y2="196.27" stroke="#111" stroke-width="0.85" />
<line x1="258.7" y1="195.19" x2="260.6" y2="195.19" stroke="#111" stroke-width="0.85" />
<line x1="258.7" y1="194.25" x2="260.6" y2="194.25" stroke="#111" stroke-width="0.85" />
<line x1="258" y1="193.4" x2="260.6" y2="193.4" stroke="#111" stroke-width="1.05" />
<text x="256.3" y="195.5" font-size="6.25" text-anchor="end" font-weight="normal" fill="#111" color="#111" >1,000</text>
<text x="256.3" y="214" font-size="6.25" text-anchor="end" font-weight="normal" fill="#111" color="#111" >100</text>
<text x="256.3" y="232.5" font-size="6.25" text-anchor="end" font-weight="normal" fill="#111" color="#111" >10</text>
<text x="256.3" y="251" font-size="6.25" text-anchor="end" font-weight="normal" fill="#111" color="#111" >1</text>
<text x="256.3" y="269.5" font-size="6.25" text-anchor="end" font-weight="normal" fill="#111" color="#111" >0.1</text>
<text x="286.5" y="287.3" font-size="6.45" text-anchor="middle" font-weight="normal" fill="#111" color="#111" >Total paired reads (million)</text>
<text x="0" y="0" font-size="6.45" text-anchor="middle" fill="#111" color="#111" transform="translate(236.9,228.5) rotate(-90)">Total false positives/100 kb</text>
<path d="M267.35,267.4 C267.51,266.25 267.83,262.44 268.3,260.5 C268.77,258.56 268.25,256.51 270.2,255.75 C272.15,254.99 276.7,255.97 280,255.95 C283.3,255.92 287.33,255.82 290,255.6 C292.67,255.38 293.67,254.9 296,254.65 C298.33,254.4 300.93,254.25 304,254.1 C307.07,253.95 312.67,253.81 314.4,253.75" fill="none" stroke="#1d3d7a" stroke-width="1.15" stroke-linejoin="round" stroke-linecap="round"/>
<path d="M267.2,267.4 C267.38,266.25 267.8,262.5 268.3,260.5 C268.8,258.5 268.25,256.22 270.2,255.4 C272.15,254.58 276.7,255.62 280,255.6 C283.3,255.58 287.33,255.53 290,255.3 C292.67,255.07 293.67,254.48 296,254.2 C298.33,253.92 300.93,253.77 304,253.6 C307.07,253.43 312.67,253.27 314.4,253.2" fill="none" stroke="#254f95" stroke-width="1.15" stroke-linejoin="round" stroke-linecap="round"/>
<path d="M267.05,267.4 C267.26,266.25 267.78,262.56 268.3,260.5 C268.82,258.44 268.25,255.93 270.2,255.05 C272.15,254.18 276.7,255.26 280,255.25 C283.3,255.24 287.33,255.25 290,255 C292.67,254.75 293.67,254.07 296,253.75 C298.33,253.43 300.93,253.28 304,253.1 C307.07,252.92 312.67,252.72 314.4,252.65" fill="none" stroke="#2d62b0" stroke-width="1.15" stroke-linejoin="round" stroke-linecap="round"/>
<path d="M266.9,267.4 C267.13,266.25 267.75,262.62 268.3,260.5 C268.85,258.38 268.25,255.63 270.2,254.7 C272.15,253.77 276.7,254.9 280,254.9 C283.3,254.9 287.33,254.97 290,254.7 C292.67,254.43 293.67,253.65 296,253.3 C298.33,252.95 300.93,252.8 304,252.6 C307.07,252.4 312.67,252.18 314.4,252.1" fill="none" stroke="#3676c8" stroke-width="1.15" stroke-linejoin="round" stroke-linecap="round"/>
<path d="M266.75,267.4 C267.01,266.25 267.73,262.68 268.3,260.5 C268.88,258.32 268.25,255.34 270.2,254.35 C272.15,253.36 276.7,254.54 280,254.55 C283.3,254.56 287.33,254.68 290,254.4 C292.67,254.12 293.67,253.23 296,252.85 C298.33,252.47 300.93,252.32 304,252.1 C307.07,251.88 312.67,251.64 314.4,251.55" fill="none" stroke="#3f8ade" stroke-width="1.15" stroke-linejoin="round" stroke-linecap="round"/>
<path d="M266.6,267.4 C266.88,266.25 267.7,262.73 268.3,260.5 C268.9,258.27 268.25,255.05 270.2,254 C272.15,252.95 276.7,254.18 280,254.2 C283.3,254.22 287.33,254.4 290,254.1 C292.67,253.8 293.67,252.82 296,252.4 C298.33,251.98 300.93,251.83 304,251.6 C307.07,251.37 312.67,251.1 314.4,251" fill="none" stroke="#4c9ee8" stroke-width="1.15" stroke-linejoin="round" stroke-linecap="round"/>
<path d="M263.6,267.4 C263.87,266.5 264.6,263.82 265.2,262 C265.8,260.18 266.48,258.12 267.2,256.5 C267.92,254.88 268.33,253.38 269.5,252.3 C270.67,251.22 272.65,250.48 274.2,250 C275.75,249.52 276.5,249.63 278.8,249.4 C281.1,249.17 285.7,248.88 288,248.6 C290.3,248.32 291.27,248.05 292.6,247.7 C293.93,247.35 294.07,246.78 296,246.5 C297.93,246.22 301.13,246.08 304.2,246 C307.27,245.92 312.7,246 314.4,246" fill="none" stroke="#b062ec" stroke-width="1.3" stroke-linejoin="round" stroke-linecap="round"/>
<path d="M263.2,267.4 C263.67,265.67 265.03,260 266,257 C266.97,254 267.83,250.95 269,249.4 C270.17,247.85 271.75,248.12 273,247.7 C274.25,247.28 275.45,247.1 276.5,246.9 C277.55,246.7 278.35,247.03 279.3,246.5 C280.25,245.97 281.13,244.57 282.2,243.7 C283.27,242.83 284.35,241.95 285.7,241.3 C287.05,240.65 288.18,240.18 290.3,239.8 C292.42,239.42 294.38,239.22 298.4,239 C302.42,238.78 311.73,238.58 314.4,238.5" fill="none" stroke="#8a3fd8" stroke-width="1.3" stroke-linejoin="round" stroke-linecap="round"/>
<path d="M262.8,267.4 C263.1,265.5 264,259.38 264.6,256 C265.2,252.62 265.58,249.43 266.4,247.1 C267.22,244.77 268.48,243.58 269.5,242 C270.52,240.42 271.47,238.9 272.5,237.6 C273.53,236.3 274.28,235.33 275.7,234.2 C277.12,233.07 279.28,231.75 281,230.8 C282.72,229.85 283.43,229.27 286,228.5 C288.57,227.73 293.23,226.85 296.4,226.2 C299.57,225.55 302,225.15 305,224.6 C308,224.05 312.83,223.18 314.4,222.9" fill="none" stroke="#6230b4" stroke-width="1.3" stroke-linejoin="round" stroke-linecap="round"/>
<path d="M263.7,217.7 C264.15,216.38 265.43,211.97 266.4,209.8 C267.37,207.63 267.95,206.42 269.5,204.7 C271.05,202.98 272.95,200.98 275.7,199.5 C278.45,198.02 282.55,196.73 286,195.8 C289.45,194.87 291.67,194.42 296.4,193.9 C301.13,193.38 311.4,192.9 314.4,192.7" fill="none" stroke="#34195e" stroke-width="1.4" stroke-linejoin="round" stroke-linecap="round"/>
<line x1="325.6" y1="182.7" x2="335.3" y2="182.7" stroke="#34195e" stroke-width="1.6" />
<text x="339" y="185.15" font-size="6.8" text-anchor="start" font-weight="normal" fill="#111" color="#111" >≥1</text>
<line x1="325.6" y1="192.65" x2="335.3" y2="192.65" stroke="#6230b4" stroke-width="1.6" />
<text x="339" y="195.1" font-size="6.8" text-anchor="start" font-weight="normal" fill="#111" color="#111" >≥2</text>
<line x1="325.6" y1="202.6" x2="335.3" y2="202.6" stroke="#8a3fd8" stroke-width="1.6" />
<text x="339" y="205.05" font-size="6.8" text-anchor="start" font-weight="normal" fill="#111" color="#111" >≥3</text>
<line x1="325.6" y1="212.55" x2="335.3" y2="212.55" stroke="#b062ec" stroke-width="1.6" />
<text x="339" y="215" font-size="6.8" text-anchor="start" font-weight="normal" fill="#111" color="#111" >≥4</text>
<line x1="325.6" y1="222.5" x2="335.3" y2="222.5" stroke="#4c9ee8" stroke-width="1.6" />
<text x="339" y="224.95" font-size="6.8" text-anchor="start" font-weight="normal" fill="#111" color="#111" >≥5</text>
<line x1="325.6" y1="232.45" x2="335.3" y2="232.45" stroke="#3f8ade" stroke-width="1.6" />
<text x="339" y="234.9" font-size="6.8" text-anchor="start" font-weight="normal" fill="#111" color="#111" >≥6</text>
<line x1="325.6" y1="242.4" x2="335.3" y2="242.4" stroke="#3676c8" stroke-width="1.6" />
<text x="339" y="244.85" font-size="6.8" text-anchor="start" font-weight="normal" fill="#111" color="#111" >≥7</text>
<line x1="325.6" y1="252.35" x2="335.3" y2="252.35" stroke="#2d62b0" stroke-width="1.6" />
<text x="339" y="254.8" font-size="6.8" text-anchor="start" font-weight="normal" fill="#111" color="#111" >≥8</text>
<line x1="325.6" y1="262.3" x2="335.3" y2="262.3" stroke="#254f95" stroke-width="1.6" />
<text x="339" y="264.75" font-size="6.8" text-anchor="start" font-weight="normal" fill="#111" color="#111" >≥9</text>
<line x1="325.6" y1="272.25" x2="335.3" y2="272.25" stroke="#1d3d7a" stroke-width="1.6" />
<text x="339" y="274.7" font-size="6.8" text-anchor="start" font-weight="normal" fill="#111" color="#111" >≥10</text>
<text x="374.3" y="173.8" font-size="13.8" text-anchor="start" font-weight="bold" fill="#000" color="#000" >E</text>
<text x="433.35" y="176.9" font-size="7.4" text-anchor="middle" font-weight="normal" fill="#111" color="#111" >Read depth</text>
<line x1="404.6" y1="267.3" x2="461" y2="267.3" stroke="#111" stroke-width="1.25" />
<line x1="407.6" y1="267.3" x2="407.6" y2="269.6" stroke="#111" stroke-width="1" />
<line x1="425.2" y1="267.3" x2="425.2" y2="269.6" stroke="#111" stroke-width="1" />
<line x1="442.8" y1="267.3" x2="442.8" y2="269.6" stroke="#111" stroke-width="1" />
<line x1="460.4" y1="267.3" x2="460.4" y2="269.6" stroke="#111" stroke-width="1" />
<line x1="413.47" y1="267.3" x2="413.47" y2="268.9" stroke="#111" stroke-width="0.8" />
<line x1="419.33" y1="267.3" x2="419.33" y2="268.9" stroke="#111" stroke-width="0.8" />
<line x1="431.07" y1="267.3" x2="431.07" y2="268.9" stroke="#111" stroke-width="0.8" />
<line x1="436.93" y1="267.3" x2="436.93" y2="268.9" stroke="#111" stroke-width="0.8" />
<line x1="448.67" y1="267.3" x2="448.67" y2="268.9" stroke="#111" stroke-width="0.8" />
<line x1="454.53" y1="267.3" x2="454.53" y2="268.9" stroke="#111" stroke-width="0.8" />
<text x="407.6" y="277.7" font-size="6.2" text-anchor="middle" font-weight="normal" fill="#111" color="#111" >0</text>
<text x="425.2" y="277.7" font-size="6.2" text-anchor="middle" font-weight="normal" fill="#111" color="#111" >60</text>
<text x="442.8" y="277.7" font-size="6.2" text-anchor="middle" font-weight="normal" fill="#111" color="#111" >120</text>
<text x="460.4" y="277.7" font-size="6.2" text-anchor="middle" font-weight="normal" fill="#111" color="#111" >180</text>
<line x1="407.6" y1="187.6" x2="407.6" y2="267.9" stroke="#111" stroke-width="1.3" />
<line x1="405" y1="267.3" x2="407.6" y2="267.3" stroke="#111" stroke-width="1.05" />
<line x1="405.7" y1="259.37" x2="407.6" y2="259.37" stroke="#111" stroke-width="0.85" />
<line x1="405.7" y1="254.74" x2="407.6" y2="254.74" stroke="#111" stroke-width="0.85" />
<line x1="405.7" y1="251.45" x2="407.6" y2="251.45" stroke="#111" stroke-width="0.85" />
<line x1="405.7" y1="248.89" x2="407.6" y2="248.89" stroke="#111" stroke-width="0.85" />
<line x1="405.7" y1="246.81" x2="407.6" y2="246.81" stroke="#111" stroke-width="0.85" />
<line x1="405.7" y1="245.05" x2="407.6" y2="245.05" stroke="#111" stroke-width="0.85" />
<line x1="405.7" y1="243.52" x2="407.6" y2="243.52" stroke="#111" stroke-width="0.85" />
<line x1="405.7" y1="242.17" x2="407.6" y2="242.17" stroke="#111" stroke-width="0.85" />
<line x1="405" y1="240.97" x2="407.6" y2="240.97" stroke="#111" stroke-width="1.05" />
<line x1="405.7" y1="233.04" x2="407.6" y2="233.04" stroke="#111" stroke-width="0.85" />
<line x1="405.7" y1="228.4" x2="407.6" y2="228.4" stroke="#111" stroke-width="0.85" />
<line x1="405.7" y1="225.11" x2="407.6" y2="225.11" stroke="#111" stroke-width="0.85" />
<line x1="405.7" y1="222.56" x2="407.6" y2="222.56" stroke="#111" stroke-width="0.85" />
<line x1="405.7" y1="220.48" x2="407.6" y2="220.48" stroke="#111" stroke-width="0.85" />
<line x1="405.7" y1="218.71" x2="407.6" y2="218.71" stroke="#111" stroke-width="0.85" />
<line x1="405.7" y1="217.19" x2="407.6" y2="217.19" stroke="#111" stroke-width="0.85" />
<line x1="405.7" y1="215.84" x2="407.6" y2="215.84" stroke="#111" stroke-width="0.85" />
<line x1="405" y1="214.63" x2="407.6" y2="214.63" stroke="#111" stroke-width="1.05" />
<line x1="405.7" y1="206.71" x2="407.6" y2="206.71" stroke="#111" stroke-width="0.85" />
<line x1="405.7" y1="202.07" x2="407.6" y2="202.07" stroke="#111" stroke-width="0.85" />
<line x1="405.7" y1="198.78" x2="407.6" y2="198.78" stroke="#111" stroke-width="0.85" />
<line x1="405.7" y1="196.23" x2="407.6" y2="196.23" stroke="#111" stroke-width="0.85" />
<line x1="405.7" y1="194.14" x2="407.6" y2="194.14" stroke="#111" stroke-width="0.85" />
<line x1="405.7" y1="192.38" x2="407.6" y2="192.38" stroke="#111" stroke-width="0.85" />
<line x1="405.7" y1="190.85" x2="407.6" y2="190.85" stroke="#111" stroke-width="0.85" />
<line x1="405.7" y1="189.5" x2="407.6" y2="189.5" stroke="#111" stroke-width="0.85" />
<line x1="405" y1="188.3" x2="407.6" y2="188.3" stroke="#111" stroke-width="1.05" />
<text x="403" y="190.4" font-size="6.25" text-anchor="end" font-weight="normal" fill="#111" color="#111" >100,000</text>
<text x="403" y="216.73" font-size="6.25" text-anchor="end" font-weight="normal" fill="#111" color="#111" >10,000</text>
<text x="403" y="243.07" font-size="6.25" text-anchor="end" font-weight="normal" fill="#111" color="#111" >1,000</text>
<text x="403" y="269.4" font-size="6.25" text-anchor="end" font-weight="normal" fill="#111" color="#111" >100</text>
<text x="433.3" y="287.1" font-size="6.4" text-anchor="middle" font-weight="normal" fill="#111" color="#111" >Total paired reads (million)</text>
<text x="0" y="0" font-size="6.5" text-anchor="middle" fill="#111" color="#111" transform="translate(376.5,227.9) rotate(-90)">Read depth</text>
<line x1="408.4" y1="202.5" x2="460.6" y2="202.5" stroke="#cfd2d4" stroke-width="1.4" />
<line x1="408.4" y1="223.2" x2="460.6" y2="223.2" stroke="#cfd2d4" stroke-width="1.4" />
<path d="M409.9,221.4 C410.25,220.32 411.1,217.08 412,214.9 C412.9,212.72 413.67,210.48 415.3,208.3 C416.93,206.12 418.9,203.78 421.8,201.8 C424.7,199.82 429.07,197.93 432.7,196.4 C436.33,194.87 438.95,194.07 443.6,192.6 C448.25,191.13 457.77,188.43 460.6,187.6" fill="none" stroke="#f07a35" stroke-width="1.4" stroke-linejoin="round" stroke-linecap="round"/>
<path d="M409.9,226.9 C410.25,225.8 411.1,221.93 412,220.3 C412.9,218.67 413.67,218.18 415.3,217.1 C416.93,216.02 418.9,214.72 421.8,213.8 C424.7,212.88 428.83,212.13 432.7,211.6 C436.57,211.07 440.35,210.88 445,210.6 C449.65,210.32 458,210.02 460.6,209.9" fill="none" stroke="#1d8a4c" stroke-width="1.4" stroke-linejoin="round" stroke-linecap="round"/>
<path d="M409.9,255.9 C410.25,254.15 411.1,248.42 412,245.4 C412.9,242.38 413.67,240.17 415.3,237.8 C416.93,235.43 418.9,233.13 421.8,231.2 C424.7,229.27 429.07,227.35 432.7,226.2 C436.33,225.05 438.95,224.83 443.6,224.3 C448.25,223.77 457.77,223.22 460.6,223" fill="none" stroke="#1b3f8c" stroke-width="1.4" stroke-linejoin="round" stroke-linecap="round"/>
<path d="M409.9,255.9 C410.25,254.15 411.1,248.42 412,245.4 C412.9,242.38 413.67,240.17 415.3,237.8 C416.93,235.43 418.9,233.13 421.8,231.2 C424.7,229.27 429.07,227.35 432.7,226.2 C436.33,225.05 438.95,224.83 443.6,224.3 C448.25,223.77 457.77,223.22 460.6,223" fill="none" stroke="#3a86e2" stroke-width="1.3" stroke-linejoin="round" stroke-linecap="round"/>
<line x1="472.2" y1="191.8" x2="481.6" y2="191.8" stroke="#e9805f" stroke-width="1.6" />
<text x="485.8" y="193.78" font-size="5.5" text-anchor="start" font-weight="normal" fill="#111" color="#111" >Preconsensus</text>
<line x1="472.2" y1="201.7" x2="481.6" y2="201.7" stroke="#2a7d4e" stroke-width="1.6" />
<text x="485.8" y="203.68" font-size="5.5" text-anchor="start" font-weight="normal" fill="#111" color="#111" >Singleton</text>
<line x1="472.2" y1="211.2" x2="481.6" y2="211.2" stroke="#2a5a9a" stroke-width="1.6" />
<text x="485.8" y="213.18" font-size="5.5" text-anchor="start" font-weight="normal" fill="#111" color="#111" >Duplex</text>
<line x1="472.2" y1="220.6" x2="481.6" y2="220.6" stroke="#3a8ae0" stroke-width="1.6" />
<text x="485.8" y="222.58" font-size="5.5" text-anchor="start" font-weight="normal" fill="#111" color="#111" >True2</text>
<text x="41" y="317.2" font-size="12.6" text-anchor="start" font-weight="bold" fill="#000" color="#000" >F</text>
<text x="112.35" y="320.1" font-size="7.45" text-anchor="middle" font-weight="normal" fill="#111" color="#111" >Specificity</text>
<line x1="84.5" y1="410.5" x2="139" y2="410.5" stroke="#111" stroke-width="1.25" />
<line x1="85.1" y1="410.5" x2="85.1" y2="412.8" stroke="#111" stroke-width="1" />
<line x1="102.87" y1="410.5" x2="102.87" y2="412.8" stroke="#111" stroke-width="1" />
<line x1="120.63" y1="410.5" x2="120.63" y2="412.8" stroke="#111" stroke-width="1" />
<line x1="138.4" y1="410.5" x2="138.4" y2="412.8" stroke="#111" stroke-width="1" />
<line x1="91.02" y1="410.5" x2="91.02" y2="412.1" stroke="#111" stroke-width="0.8" />
<line x1="96.94" y1="410.5" x2="96.94" y2="412.1" stroke="#111" stroke-width="0.8" />
<line x1="108.79" y1="410.5" x2="108.79" y2="412.1" stroke="#111" stroke-width="0.8" />
<line x1="114.71" y1="410.5" x2="114.71" y2="412.1" stroke="#111" stroke-width="0.8" />
<line x1="126.56" y1="410.5" x2="126.56" y2="412.1" stroke="#111" stroke-width="0.8" />
<line x1="132.48" y1="410.5" x2="132.48" y2="412.1" stroke="#111" stroke-width="0.8" />
<text x="85.1" y="421" font-size="6.2" text-anchor="middle" font-weight="normal" fill="#111" color="#111" >0</text>
<text x="102.87" y="421" font-size="6.2" text-anchor="middle" font-weight="normal" fill="#111" color="#111" >60</text>
<text x="120.63" y="421" font-size="6.2" text-anchor="middle" font-weight="normal" fill="#111" color="#111" >120</text>
<text x="138.4" y="421" font-size="6.2" text-anchor="middle" font-weight="normal" fill="#111" color="#111" >180</text>
<line x1="85.1" y1="329" x2="85.1" y2="411.1" stroke="#111" stroke-width="1.3" />
<line x1="82.5" y1="410.5" x2="85.1" y2="410.5" stroke="#111" stroke-width="1.05" />
<line x1="83.2" y1="406.8" x2="85.1" y2="406.8" stroke="#111" stroke-width="0.85" />
<line x1="83.2" y1="404.64" x2="85.1" y2="404.64" stroke="#111" stroke-width="0.85" />
<line x1="83.2" y1="403.1" x2="85.1" y2="403.1" stroke="#111" stroke-width="0.85" />
<line x1="83.2" y1="401.91" x2="85.1" y2="401.91" stroke="#111" stroke-width="0.85" />
<line x1="83.2" y1="400.94" x2="85.1" y2="400.94" stroke="#111" stroke-width="0.85" />
<line x1="83.2" y1="400.12" x2="85.1" y2="400.12" stroke="#111" stroke-width="0.85" />
<line x1="83.2" y1="399.41" x2="85.1" y2="399.41" stroke="#111" stroke-width="0.85" />
<line x1="83.2" y1="398.78" x2="85.1" y2="398.78" stroke="#111" stroke-width="0.85" />
<line x1="82.5" y1="398.22" x2="85.1" y2="398.22" stroke="#111" stroke-width="1.05" />
<line x1="83.2" y1="394.52" x2="85.1" y2="394.52" stroke="#111" stroke-width="0.85" />
<line x1="83.2" y1="392.36" x2="85.1" y2="392.36" stroke="#111" stroke-width="0.85" />
<line x1="83.2" y1="390.82" x2="85.1" y2="390.82" stroke="#111" stroke-width="0.85" />
<line x1="83.2" y1="389.63" x2="85.1" y2="389.63" stroke="#111" stroke-width="0.85" />
<line x1="83.2" y1="388.66" x2="85.1" y2="388.66" stroke="#111" stroke-width="0.85" />
<line x1="83.2" y1="387.84" x2="85.1" y2="387.84" stroke="#111" stroke-width="0.85" />
<line x1="83.2" y1="387.12" x2="85.1" y2="387.12" stroke="#111" stroke-width="0.85" />
<line x1="83.2" y1="386.5" x2="85.1" y2="386.5" stroke="#111" stroke-width="0.85" />
<line x1="82.5" y1="385.93" x2="85.1" y2="385.93" stroke="#111" stroke-width="1.05" />
<line x1="83.2" y1="382.24" x2="85.1" y2="382.24" stroke="#111" stroke-width="0.85" />
<line x1="83.2" y1="380.07" x2="85.1" y2="380.07" stroke="#111" stroke-width="0.85" />
<line x1="83.2" y1="378.54" x2="85.1" y2="378.54" stroke="#111" stroke-width="0.85" />
<line x1="83.2" y1="377.35" x2="85.1" y2="377.35" stroke="#111" stroke-width="0.85" />
<line x1="83.2" y1="376.38" x2="85.1" y2="376.38" stroke="#111" stroke-width="0.85" />
<line x1="83.2" y1="375.55" x2="85.1" y2="375.55" stroke="#111" stroke-width="0.85" />
<line x1="83.2" y1="374.84" x2="85.1" y2="374.84" stroke="#111" stroke-width="0.85" />
<line x1="83.2" y1="374.21" x2="85.1" y2="374.21" stroke="#111" stroke-width="0.85" />
<line x1="82.5" y1="373.65" x2="85.1" y2="373.65" stroke="#111" stroke-width="1.05" />
<line x1="83.2" y1="369.95" x2="85.1" y2="369.95" stroke="#111" stroke-width="0.85" />
<line x1="83.2" y1="367.79" x2="85.1" y2="367.79" stroke="#111" stroke-width="0.85" />
<line x1="83.2" y1="366.25" x2="85.1" y2="366.25" stroke="#111" stroke-width="0.85" />
<line x1="83.2" y1="365.06" x2="85.1" y2="365.06" stroke="#111" stroke-width="0.85" />
<line x1="83.2" y1="364.09" x2="85.1" y2="364.09" stroke="#111" stroke-width="0.85" />
<line x1="83.2" y1="363.27" x2="85.1" y2="363.27" stroke="#111" stroke-width="0.85" />
<line x1="83.2" y1="362.56" x2="85.1" y2="362.56" stroke="#111" stroke-width="0.85" />
<line x1="83.2" y1="361.93" x2="85.1" y2="361.93" stroke="#111" stroke-width="0.85" />
<line x1="82.5" y1="361.37" x2="85.1" y2="361.37" stroke="#111" stroke-width="1.05" />
<line x1="83.2" y1="357.67" x2="85.1" y2="357.67" stroke="#111" stroke-width="0.85" />
<line x1="83.2" y1="355.51" x2="85.1" y2="355.51" stroke="#111" stroke-width="0.85" />
<line x1="83.2" y1="353.97" x2="85.1" y2="353.97" stroke="#111" stroke-width="0.85" />
<line x1="83.2" y1="352.78" x2="85.1" y2="352.78" stroke="#111" stroke-width="0.85" />
<line x1="83.2" y1="351.81" x2="85.1" y2="351.81" stroke="#111" stroke-width="0.85" />
<line x1="83.2" y1="350.99" x2="85.1" y2="350.99" stroke="#111" stroke-width="0.85" />
<line x1="83.2" y1="350.27" x2="85.1" y2="350.27" stroke="#111" stroke-width="0.85" />
<line x1="83.2" y1="349.65" x2="85.1" y2="349.65" stroke="#111" stroke-width="0.85" />
<line x1="82.5" y1="349.08" x2="85.1" y2="349.08" stroke="#111" stroke-width="1.05" />
<line x1="83.2" y1="345.39" x2="85.1" y2="345.39" stroke="#111" stroke-width="0.85" />
<line x1="83.2" y1="343.22" x2="85.1" y2="343.22" stroke="#111" stroke-width="0.85" />
<line x1="83.2" y1="341.69" x2="85.1" y2="341.69" stroke="#111" stroke-width="0.85" />
<line x1="83.2" y1="340.5" x2="85.1" y2="340.5" stroke="#111" stroke-width="0.85" />
<line x1="83.2" y1="339.53" x2="85.1" y2="339.53" stroke="#111" stroke-width="0.85" />
<line x1="83.2" y1="338.7" x2="85.1" y2="338.7" stroke="#111" stroke-width="0.85" />
<line x1="83.2" y1="337.99" x2="85.1" y2="337.99" stroke="#111" stroke-width="0.85" />
<line x1="83.2" y1="337.36" x2="85.1" y2="337.36" stroke="#111" stroke-width="0.85" />
<line x1="82.5" y1="336.8" x2="85.1" y2="336.8" stroke="#111" stroke-width="1.05" />
<text x="80.8" y="338.9" font-size="6.25" text-anchor="end" font-weight="normal" fill="#111" color="#111" >100,000</text>
<text x="80.8" y="351.18" font-size="6.25" text-anchor="end" font-weight="normal" fill="#111" color="#111" >10,000</text>
<text x="80.8" y="363.47" font-size="6.25" text-anchor="end" font-weight="normal" fill="#111" color="#111" >1,000</text>
<text x="80.8" y="375.75" font-size="6.25" text-anchor="end" font-weight="normal" fill="#111" color="#111" >100</text>
<text x="80.8" y="388.03" font-size="6.25" text-anchor="end" font-weight="normal" fill="#111" color="#111" >10</text>
<text x="80.8" y="400.32" font-size="6.25" text-anchor="end" font-weight="normal" fill="#111" color="#111" >1</text>
<text x="80.8" y="412.6" font-size="6.25" text-anchor="end" font-weight="normal" fill="#111" color="#111" >0.1</text>
<text x="111.7" y="430.3" font-size="6.55" text-anchor="middle" font-weight="normal" fill="#111" color="#111" >Total paired reads (million)</text>
<text x="0" y="0" font-size="6.3" text-anchor="middle" fill="#111" color="#111" transform="translate(55.5,372.5) rotate(-90)">Total false positives/100 kb</text>
<line x1="85.2" y1="398.1" x2="138.5" y2="398.1" stroke="#c8c8c8" stroke-width="0.9" />
<path d="M88.3,337 C88.82,336.55 90.02,334.98 91.4,334.3 C92.78,333.62 93.33,333.32 96.6,332.9 C99.87,332.48 104.02,332.15 111,331.8 C117.98,331.45 133.92,330.97 138.5,330.8" fill="none" stroke="#f07a35" stroke-width="1.4" stroke-linejoin="round" stroke-linecap="round"/>
<path d="M88.3,341.1 C88.82,340.77 90.02,339.65 91.4,339.1 C92.78,338.55 93.33,338.08 96.6,337.8 C99.87,337.52 104.02,337.4 111,337.4 C117.98,337.4 133.92,337.73 138.5,337.8" fill="none" stroke="#2a8a4e" stroke-width="1.4" stroke-linejoin="round" stroke-linecap="round"/>
<path d="M88.3,369.5 C88.82,368.82 90.02,366.67 91.4,365.4 C92.78,364.13 94.33,362.93 96.6,361.9 C98.87,360.87 101.1,359.9 105,359.2 C108.9,358.5 114.42,358.12 120,357.7 C125.58,357.28 135.42,356.87 138.5,356.7" fill="none" stroke="#1c2a5c" stroke-width="1.4" stroke-linejoin="round" stroke-linecap="round"/>
<path d="M90.8,404.7 L92.5,403.2 L94.5,402.6 L97,402.4 L100.7,401.6 L106,401 L111,400.6 L116,400.4 L123,400.3 L126,399.7 L129,399.4 L138.5,399.3" fill="none" stroke="#3a86e2" stroke-width="1.3" stroke-linejoin="round" stroke-linecap="round"/>
<line x1="152.4" y1="335.5" x2="161.8" y2="335.5" stroke="#e9805f" stroke-width="1.6" />
<text x="165.9" y="337.46" font-size="5.45" text-anchor="start" font-weight="normal" fill="#111" color="#111" >Preconsensus</text>
<line x1="152.4" y1="344.9" x2="161.8" y2="344.9" stroke="#2a7d4e" stroke-width="1.6" />
<text x="165.9" y="346.86" font-size="5.45" text-anchor="start" font-weight="normal" fill="#111" color="#111" >Singleton</text>
<line x1="152.4" y1="354.7" x2="161.8" y2="354.7" stroke="#1c2a5c" stroke-width="1.6" />
<text x="165.9" y="356.66" font-size="5.45" text-anchor="start" font-weight="normal" fill="#111" color="#111" >Duplex</text>
<line x1="152.4" y1="364.1" x2="161.8" y2="364.1" stroke="#3a8ae0" stroke-width="1.6" />
<text x="165.9" y="366.06" font-size="5.45" text-anchor="start" font-weight="normal" fill="#111" color="#111" >True2</text>
<text x="225.8" y="316.8" font-size="12.6" text-anchor="start" font-weight="bold" fill="#000" color="#000" >G</text>
<text x="287.8" y="319.4" font-size="6.94" text-anchor="middle" font-weight="normal" fill="#111" color="#111" >SNV truth set categories</text>
<line x1="259.6" y1="328.2" x2="259.6" y2="411" stroke="#111" stroke-width="1.3" />
<line x1="257.3" y1="410.4" x2="259.6" y2="410.4" stroke="#111" stroke-width="1" />
<line x1="257.3" y1="390.05" x2="259.6" y2="390.05" stroke="#111" stroke-width="1" />
<line x1="257.3" y1="369.7" x2="259.6" y2="369.7" stroke="#111" stroke-width="1" />
<line x1="257.3" y1="349.35" x2="259.6" y2="349.35" stroke="#111" stroke-width="1" />
<line x1="257.3" y1="329" x2="259.6" y2="329" stroke="#111" stroke-width="1" />
<line x1="258.1" y1="400.22" x2="259.6" y2="400.22" stroke="#111" stroke-width="0.8" />
<line x1="258.1" y1="379.88" x2="259.6" y2="379.88" stroke="#111" stroke-width="0.8" />
<line x1="258.1" y1="359.52" x2="259.6" y2="359.52" stroke="#111" stroke-width="0.8" />
<line x1="258.1" y1="339.18" x2="259.6" y2="339.18" stroke="#111" stroke-width="0.8" />
<text x="256" y="412.25" font-size="5.3" text-anchor="end" font-weight="normal" fill="#111" color="#111" >0</text>
<text x="256" y="391.9" font-size="5.3" text-anchor="end" font-weight="normal" fill="#111" color="#111" >20</text>
<text x="256" y="371.56" font-size="5.3" text-anchor="end" font-weight="normal" fill="#111" color="#111" >40</text>
<text x="256" y="351.21" font-size="5.3" text-anchor="end" font-weight="normal" fill="#111" color="#111" >60</text>
<text x="256" y="330.86" font-size="5.3" text-anchor="end" font-weight="normal" fill="#111" color="#111" >80</text>
<text x="0" y="0" font-size="5.84" text-anchor="middle" fill="#111" color="#111" transform="translate(246.8,370.4) rotate(-90)">Number of variants</text>
<rect x="263.6" y="371.74" width="6.4" height="38.66" fill="#ef177b"/>
<text x="266.8" y="370.04" font-size="5.0" text-anchor="middle" font-weight="normal" fill="#222" color="#222" >38</text>
<rect x="272.1" y="354.44" width="6.4" height="55.96" fill="#c477f2"/>
<text x="275.3" y="352.74" font-size="5.0" text-anchor="middle" font-weight="normal" fill="#222" color="#222" >55</text>
<rect x="280.6" y="376.82" width="6.4" height="33.58" fill="#3b1382"/>
<text x="283.8" y="375.12" font-size="5.0" text-anchor="middle" font-weight="normal" fill="#222" color="#222" >33</text>
<rect x="289.1" y="367.66" width="6.4" height="42.74" fill="#1a7b72"/>
<text x="292.3" y="365.96" font-size="5.0" text-anchor="middle" font-weight="normal" fill="#222" color="#222" >42</text>
<rect x="297.5" y="351.38" width="6.4" height="59.01" fill="#2a8cf2"/>
<text x="300.7" y="349.69" font-size="5.0" text-anchor="middle" font-weight="normal" fill="#222" color="#222" >58</text>
<rect x="305.8" y="347.31" width="6.4" height="63.08" fill="#f25a12"/>
<text x="309" y="345.62" font-size="5.0" text-anchor="middle" font-weight="normal" fill="#222" color="#222" >62</text>
<line x1="259" y1="410.4" x2="314.3" y2="410.4" stroke="#111" stroke-width="1.25" />
<line x1="266.8" y1="410.4" x2="266.8" y2="412.6" stroke="#111" stroke-width="0.9" />
<text x="0" y="0" font-size="5.6" text-anchor="end" fill="#111" color="#111" transform="translate(269.2,416.4) rotate(-45)">&lt;0.1%</text>
<line x1="275.3" y1="410.4" x2="275.3" y2="412.6" stroke="#111" stroke-width="0.9" />
<text x="0" y="0" font-size="5.6" text-anchor="end" fill="#111" color="#111" transform="translate(277.7,416.4) rotate(-45)">0.1–0.3%</text>
<line x1="283.8" y1="410.4" x2="283.8" y2="412.6" stroke="#111" stroke-width="0.9" />
<text x="0" y="0" font-size="5.6" text-anchor="end" fill="#111" color="#111" transform="translate(286.2,416.4) rotate(-45)">0.3–0.5%</text>
<line x1="292.3" y1="410.4" x2="292.3" y2="412.6" stroke="#111" stroke-width="0.9" />
<text x="0" y="0" font-size="5.6" text-anchor="end" fill="#111" color="#111" transform="translate(294.7,416.4) rotate(-45)">0.5–1%</text>
<line x1="300.7" y1="410.4" x2="300.7" y2="412.6" stroke="#111" stroke-width="0.9" />
<text x="0" y="0" font-size="5.6" text-anchor="end" fill="#111" color="#111" transform="translate(303.1,416.4) rotate(-45)">1–5%</text>
<line x1="309" y1="410.4" x2="309" y2="412.6" stroke="#111" stroke-width="0.9" />
<text x="0" y="0" font-size="5.6" text-anchor="end" fill="#111" color="#111" transform="translate(311.4,416.4) rotate(-45)">&gt;5%</text>
<text x="373.6" y="316.8" font-size="12.6" text-anchor="start" font-weight="bold" fill="#000" color="#000" >H</text>
<text x="434.75" y="320.8" font-size="7.36" text-anchor="middle" font-weight="normal" fill="#111" color="#111" >True2 sensitivity</text>
<line x1="407" y1="409.5" x2="460.9" y2="409.5" stroke="#111" stroke-width="1.25" />
<line x1="407.6" y1="409.5" x2="407.6" y2="411.8" stroke="#111" stroke-width="1" />
<line x1="425.17" y1="409.5" x2="425.17" y2="411.8" stroke="#111" stroke-width="1" />
<line x1="442.73" y1="409.5" x2="442.73" y2="411.8" stroke="#111" stroke-width="1" />
<line x1="460.3" y1="409.5" x2="460.3" y2="411.8" stroke="#111" stroke-width="1" />
<line x1="413.46" y1="409.5" x2="413.46" y2="411.1" stroke="#111" stroke-width="0.8" />
<line x1="419.31" y1="409.5" x2="419.31" y2="411.1" stroke="#111" stroke-width="0.8" />
<line x1="431.02" y1="409.5" x2="431.02" y2="411.1" stroke="#111" stroke-width="0.8" />
<line x1="436.88" y1="409.5" x2="436.88" y2="411.1" stroke="#111" stroke-width="0.8" />
<line x1="448.59" y1="409.5" x2="448.59" y2="411.1" stroke="#111" stroke-width="0.8" />
<line x1="454.44" y1="409.5" x2="454.44" y2="411.1" stroke="#111" stroke-width="0.8" />
<text x="407.6" y="419.6" font-size="6.2" text-anchor="middle" font-weight="normal" fill="#111" color="#111" >0</text>
<text x="425.17" y="419.6" font-size="6.2" text-anchor="middle" font-weight="normal" fill="#111" color="#111" >60</text>
<text x="442.73" y="419.6" font-size="6.2" text-anchor="middle" font-weight="normal" fill="#111" color="#111" >120</text>
<text x="460.3" y="419.6" font-size="6.2" text-anchor="middle" font-weight="normal" fill="#111" color="#111" >180</text>
<line x1="407.6" y1="328.8" x2="407.6" y2="410.1" stroke="#111" stroke-width="1.3" />
<line x1="405.3" y1="409.5" x2="407.6" y2="409.5" stroke="#111" stroke-width="1" />
<line x1="405.3" y1="393.72" x2="407.6" y2="393.72" stroke="#111" stroke-width="1" />
<line x1="405.3" y1="377.94" x2="407.6" y2="377.94" stroke="#111" stroke-width="1" />
<line x1="405.3" y1="362.16" x2="407.6" y2="362.16" stroke="#111" stroke-width="1" />
<line x1="405.3" y1="346.38" x2="407.6" y2="346.38" stroke="#111" stroke-width="1" />
<line x1="405.3" y1="330.6" x2="407.6" y2="330.6" stroke="#111" stroke-width="1" />
<line x1="406.1" y1="401.61" x2="407.6" y2="401.61" stroke="#111" stroke-width="0.8" />
<line x1="406.1" y1="385.83" x2="407.6" y2="385.83" stroke="#111" stroke-width="0.8" />
<line x1="406.1" y1="370.05" x2="407.6" y2="370.05" stroke="#111" stroke-width="0.8" />
<line x1="406.1" y1="354.27" x2="407.6" y2="354.27" stroke="#111" stroke-width="0.8" />
<line x1="406.1" y1="338.49" x2="407.6" y2="338.49" stroke="#111" stroke-width="0.8" />
<text x="403.3" y="411.67" font-size="6.2" text-anchor="end" font-weight="normal" fill="#111" color="#111" >0</text>
<text x="403.3" y="395.89" font-size="6.2" text-anchor="end" font-weight="normal" fill="#111" color="#111" >20</text>
<text x="403.3" y="380.11" font-size="6.2" text-anchor="end" font-weight="normal" fill="#111" color="#111" >40</text>
<text x="403.3" y="364.33" font-size="6.2" text-anchor="end" font-weight="normal" fill="#111" color="#111" >60</text>
<text x="403.3" y="348.55" font-size="6.2" text-anchor="end" font-weight="normal" fill="#111" color="#111" >80</text>
<text x="403.3" y="332.77" font-size="6.2" text-anchor="end" font-weight="normal" fill="#111" color="#111" >100</text>
<text x="433.2" y="429.7" font-size="6.4" text-anchor="middle" font-weight="normal" fill="#111" color="#111" >Total paired reads (million)</text>
<text x="0" y="0" font-size="6.35" text-anchor="middle" fill="#111" color="#111" transform="translate(388.7,370.7) rotate(-90)">Sensitivity, %</text>
<line x1="408" y1="338.4" x2="460.3" y2="338.4" stroke="#777" stroke-width="0.8" stroke-dasharray="2 1.6"/>
<line x1="408" y1="383.6" x2="460.3" y2="383.6" stroke="#999" stroke-width="0.8" />
<path d="M409.8,330.7 L430,330.7" fill="none" stroke="#f07a35" stroke-width="1.4" stroke-linejoin="round" stroke-linecap="round"/>
<path d="M410.1,397.7 C410.33,393.42 411.05,380.13 411.5,372 C411.95,363.87 412.35,354.53 412.8,348.9 C413.25,343.27 413.63,340.78 414.2,338.2 C414.77,335.62 415.32,334.48 416.2,333.4 C417.08,332.32 418.03,332.1 419.5,331.7 C420.97,331.3 418.2,331.17 425,331 C431.8,330.83 454.42,330.75 460.3,330.7" fill="none" stroke="#1a8c8e" stroke-width="1.3" stroke-linejoin="round" stroke-linecap="round"/>
<path d="M410.1,359.7 C410.33,356.78 411.1,346.68 411.5,342.2 C411.9,337.72 411.83,334.63 412.5,332.8 C413.17,330.97 413.95,331.53 415.5,331.2 C417.05,330.87 414.33,330.88 421.8,330.8 C429.27,330.72 453.88,330.72 460.3,330.7" fill="none" stroke="#3a8ae8" stroke-width="1.3" stroke-linejoin="round" stroke-linecap="round"/>
<path d="M409.8,409.5 C410.3,406.63 411.97,398.08 412.8,392.3 C413.63,386.52 414.13,380.18 414.8,374.8 C415.47,369.42 416.02,365.22 416.8,360 C417.58,354.78 418.48,347.37 419.5,343.5 C420.52,339.63 421.77,338.42 422.9,336.8 C424.03,335.18 424.62,334.65 426.3,333.8 C427.98,332.95 430.32,332.1 433,331.7 C435.68,331.3 439.82,331.22 442.4,331.4 C444.98,331.58 446.7,332.75 448.5,332.8 C450.3,332.85 451.25,332.12 453.2,331.7 C455.15,331.28 459.03,330.53 460.2,330.3" fill="none" stroke="#21196e" stroke-width="1.4" stroke-linejoin="round" stroke-linecap="round"/>
<path d="M409.8,409.5 C410.53,406.63 412.8,397.63 414.2,392.3 C415.6,386.97 417.2,380.87 418.2,377.5 C419.2,374.13 419.08,375.35 420.2,372.1 C421.32,368.85 423,361.87 424.9,358 C426.8,354.13 429.35,351.2 431.6,348.9 C433.85,346.6 436.15,345.32 438.4,344.2 C440.65,343.08 442.87,342.98 445.1,342.2 C447.33,341.42 449.28,340.13 451.8,339.5 C454.32,338.87 458.8,338.58 460.2,338.4" fill="none" stroke="#b56ef2" stroke-width="1.3" stroke-linejoin="round" stroke-linecap="round"/>
<path d="M409.8,409.5 C410.97,409.5 414.95,410.02 416.8,409.5 C418.65,408.98 419.55,407.47 420.9,406.4 C422.25,405.33 423.33,404.55 424.9,403.1 C426.47,401.65 428.28,399.95 430.3,397.7 C432.32,395.45 434.98,391.45 437,389.6 C439.02,387.75 440.72,387.23 442.4,386.6 C444.08,385.97 445.3,386.23 447.1,385.8 C448.9,385.37 451.02,384.93 453.2,384 C455.38,383.07 459.03,380.83 460.2,380.2" fill="none" stroke="#e3227c" stroke-width="1.4" stroke-linejoin="round" stroke-linecap="round"/>
<line x1="467.6" y1="335.2" x2="477.3" y2="335.2" stroke="#ee7f5c" stroke-width="1.4" />
<text x="481.3" y="337.25" font-size="5.7" text-anchor="start" font-weight="normal" fill="#111" color="#111" >&gt;5%</text>
<line x1="467.6" y1="346.2" x2="477.3" y2="346.2" stroke="#3a8ae8" stroke-width="1.4" />
<text x="481.3" y="348.25" font-size="5.7" text-anchor="start" font-weight="normal" fill="#111" color="#111" >1–5%</text>
<line x1="467.6" y1="357.3" x2="477.3" y2="357.3" stroke="#1a7f80" stroke-width="1.4" />
<text x="481.3" y="359.35" font-size="5.7" text-anchor="start" font-weight="normal" fill="#111" color="#111" >0.5–1%</text>
<line x1="467.6" y1="368.3" x2="477.3" y2="368.3" stroke="#21196e" stroke-width="1.4" />
<text x="481.3" y="370.35" font-size="5.7" text-anchor="start" font-weight="normal" fill="#111" color="#111" >0.3–0.5%</text>
<line x1="467.6" y1="379.6" x2="477.3" y2="379.6" stroke="#b07af0" stroke-width="1.4" />
<text x="481.3" y="381.65" font-size="5.7" text-anchor="start" font-weight="normal" fill="#111" color="#111" >0.1–0.3%</text>
<line x1="467.6" y1="390.5" x2="477.3" y2="390.5" stroke="#e0256f" stroke-width="1.4" />
<text x="481.3" y="392.55" font-size="5.7" text-anchor="start" font-weight="normal" fill="#111" color="#111" >&lt;0.1%</text>
</svg></body></html>
